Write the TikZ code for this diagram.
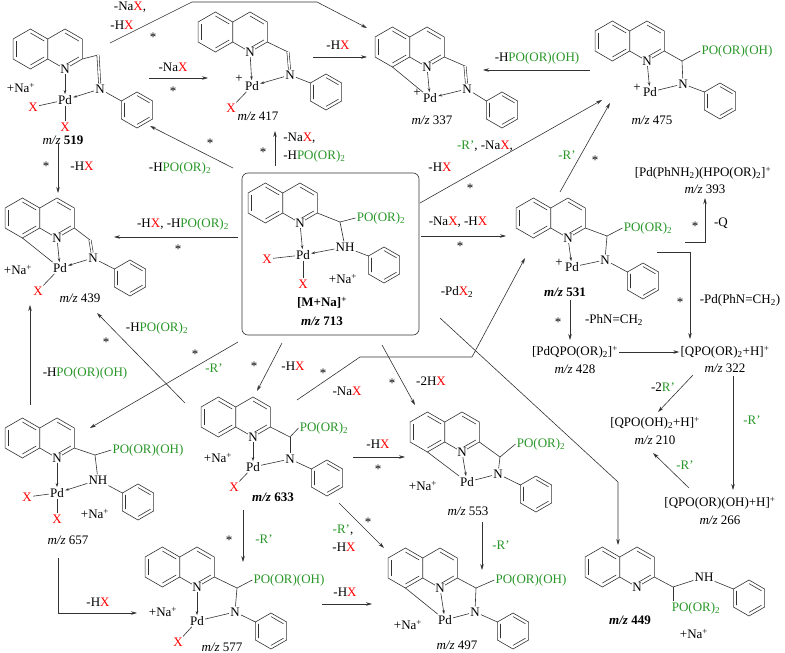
\documentclass[tikz,border=0pt]{standalone}
\usepackage{fontspec}
\setmainfont{Liberation Serif}
\usetikzlibrary{arrows.meta,calc}
\definecolor{grn}{RGB}{40,150,40}
\definecolor{ink}{RGB}{50,50,50}
\newcommand\Xr{\textcolor{red}{X}}
\newcommand\Gn[1]{\textcolor{grn}{#1}}
\newcommand\sbs[1]{\textsubscript{#1}}
\newcommand\sps[1]{\textsuperscript{#1}}
\begin{document}
\begin{tikzpicture}[x=1pt,y=-1pt,line width=0.6pt,
  every node/.style={font=\fontsize{13}{14}\selectfont,inner sep=1pt,text=black},
  nn/.style={fill=white,inner sep=0.6pt},
  ar/.style={draw=ink,-{Stealth[length=6pt,width=3.5pt]}},
  ln/.style={draw=ink},
  dat/.style={draw=ink,-{Stealth[length=4pt,width=2.6pt]}},
  db/.style={draw=ink,double=white,double distance=1.6pt},
  quin/.pic={
    \draw[ink] (0,0)--(17.3,-10)--(17.3,-30)--(0,-40)--(-17.3,-30)--(-17.3,-10)--cycle;
    \draw[ink] (-17.3,-10)--(-34.6,0)--(-51.9,-10)--(-51.9,-30)--(-34.6,-40)--(-17.3,-30);
    \draw[ink] ($(0,-40)!0.2!(0,-20)$)--($(17.3,-30)!0.2!(0,-20)$);
    \draw[ink] ($(0,0)!0.2!(0,-20)$)--($(17.3,-10)!0.2!(0,-20)$);
    \draw[ink] ($(-51.9,-10)!0.2!(-34.6,-20)$)--($(-51.9,-30)!0.2!(-34.6,-20)$);
    \draw[ink] ($(-34.6,-40)!0.2!(-34.6,-20)$)--($(-17.3,-30)!0.2!(-34.6,-20)$);
    \draw[ink] ($(-34.6,0)!0.2!(-34.6,-20)$)--($(-17.3,-10)!0.2!(-34.6,-20)$);
    \node[nn] (-N) at (0,0) {N};
    \coordinate (-c2) at (17.3,-10);
    \coordinate (-c8) at (-34.6,0);
  },
  ph/.pic={
    \draw[ink] (0,-18)--(15.6,-9)--(15.6,9)--(0,18)--(-15.6,9)--(-15.6,-9)--cycle;
    \draw[ink] (0,-14.4)--(12.5,-7.2) (12.5,7.2)--(0,14.4) (-12.5,7.2)--(-12.5,-7.2);
    \coordinate (-v) at (-15.6,-9);
  }]
\useasboundingbox (0,0) rectangle (785,653);

% ---------- A (519)
\pic (qa) at (65,69) {quin};
\node (A1) at (65,100) {Pd};
\node (A2) at (33,107) {\Xr};
\node (A3) at (65,127) {\Xr};
\node at (21,88) {+Na\sps{+}};
\coordinate (Ach) at (98,55);
\node (An) at (100,89) {N};
\draw[ink] (qa-c2)--(Ach); \draw[db] (Ach)--(An);
\draw[dat] (qa-N)--(A1); \draw[dat] (An)--(A1);
\draw[ln] (A1)--(A2); \draw[ln] (A1)--(A3);
\pic (pA) at (137,110) {ph}; \draw[ln] (An)--(pA-v);
\node at (63,140) {\textit{m/z} \textbf{519}};

% ---------- B (417)
\pic (qb) at (250,52) {quin};
\node (B1) at (252,86) {Pd}; \node at (239,79) {+};
\node (B2) at (231,108) {\Xr};
\coordinate (Bch) at (288,52);
\node (Bn) at (290,75) {N};
\draw[ink] (qb-c2)--(Bch); \draw[db] (Bch)--(Bn);
\draw[dat] (qb-N)--(B1); \draw[dat] (Bn)--(B1); \draw[ln] (B1)--(B2);
\pic (pB) at (326,92) {ph}; \draw[ln] (Bn)--(pB-v);
\node at (258,116) {\textit{m/z} 417};

% ---------- C (337)
\pic (qc) at (427,67) {quin};
\node (C1) at (430,98) {Pd}; \node at (417,93) {+};
\coordinate (Cch) at (465,66);
\node (Cn) at (467,89) {N};
\draw[ink] (qc-c2)--(Cch); \draw[db] (Cch)--(Cn);
\draw[dat] (qc-N)--(C1); \draw[dat] (Cn)--(C1); \draw[ln] (qc-c8)--(C1);
\pic (pC) at (502,110) {ph}; \draw[ln] (Cn)--(pC-v);
\node at (432,120) {\textit{m/z} 337};

% ---------- D (475)
\pic (qd) at (647,61) {quin};
\node (D1) at (650,92) {Pd}; \node at (637,88) {+};
\coordinate (Dch) at (682,61);
\node (Dpo) at (737,51) {\Gn{PO(OR)(OH)}};
\node (Dn) at (683,84) {N};
\draw[ink] (qd-c2)--(Dch)--(Dpo.west); \draw[ln] (Dch)--(Dn);
\draw[dat] (qd-N)--(D1); \draw[ln] (Dn)--(D1);
\pic (pD) at (720,101) {ph}; \draw[ln] (Dn)--(pD-v);
\node at (652,120) {\textit{m/z} 475};

% ---------- E (439)
\pic (qe) at (57,238) {quin};
\node (E1) at (60,268) {Pd};
\node (E2) at (38,291) {\Xr};
\node at (18,270) {+Na\sps{+}};
\coordinate (Ech) at (90,240);
\node (En) at (93,258) {N};
\draw[ink] (qe-c2)--(Ech); \draw[db] (Ech)--(En);
\draw[dat] (qe-N)--(E1); \draw[dat] (En)--(E1); \draw[ln] (qe-c8)--(E1); \draw[ln] (E1)--(E2);
\pic (pE) at (130,278) {ph}; \draw[ln] (En)--(pE-v);
\node at (80,298) {\textit{m/z} 439};

% ---------- F (713) box
\draw[ink,rounded corners=6pt] (242,173) rectangle (419,335);
\pic (qf) at (300,223) {quin};
\node (F1) at (303,255) {Pd};
\node (F2) at (267,259) {\Xr};
\node (F3) at (303,284) {\Xr};
\coordinate (Fch) at (340,222);
\node (Fpo) at (381,218) {\Gn{PO(OR)\sbs{2}}};
\node (Fnh) at (345,247) {NH};
\draw[ink] (qf-c2)--(Fch)--(Fpo.west); \draw[ln] (Fch)--(Fnh);
\draw[dat] (qf-N)--(F1); \draw[dat] (Fnh)--(F1); \draw[ln] (F1)--(F2); \draw[ln] (F1)--(F3);
\pic (pF) at (384,265) {ph}; \draw[ln] (Fnh)--(pF-v);
\node at (343,279) {+Na\sps{+}};
\node at (322,303) {\textbf{[M+Na]\sps{+}}};
\node at (322,321) {\textbf{\textit{m/z} 713}};

% ---------- G (531)
\pic (qg) at (568,238) {quin};
\node (G1) at (572,267) {Pd}; \node at (559,263) {+};
\coordinate (Gch) at (607,236);
\node (Gpo) at (648,228) {\Gn{PO(OR)\sbs{2}}};
\node (Gn) at (605,260) {N};
\draw[ink] (qg-c2)--(Gch)--(Gpo.west); \draw[ln] (Gch)--(Gn);
\draw[dat] (qg-N)--(G1); \draw[ln] (Gn)--(G1);
\pic (pG) at (643,281) {ph}; \draw[ln] (Gn)--(pG-v);
\node at (565,292) {\textbf{\textit{m/z} 531}};

% ---------- H (657)
\pic (qh) at (57,458) {quin};
\node (H1) at (57,493) {Pd};
\node (H2) at (27,497) {\Xr};
\node (H3) at (57,519) {\Xr};
\coordinate (Hch) at (95,455);
\node (Hpo) at (148,450) {\Gn{PO(OR)(OH)}};
\node (Hnh) at (98,480) {NH};
\draw[ink] (qh-c2)--(Hch)--(Hpo.west); \draw[ln] (Hch)--(Hnh);
\draw[dat] (qh-N)--(H1); \draw[dat] (Hnh)--(H1); \draw[ln] (H1)--(H2); \draw[ln] (H1)--(H3);
\pic (pH) at (138,502) {ph}; \draw[ln] (Hnh)--(pH-v);
\node at (95,514) {+Na\sps{+}};
\node at (68,540) {\textit{m/z} 657};

% ---------- I (633)
\pic (qi) at (253,437) {quin};
\node (I1) at (253,467) {Pd};
\node (I2) at (234,487) {\Xr};
\node at (218,458) {+Na\sps{+}};
\coordinate (Ich) at (290,437);
\node (Ipo) at (324,428) {\Gn{PO(OR)\sbs{2}}};
\node (In) at (290,459) {N};
\draw[ink] (qi-c2)--(Ich)--(Ipo.west); \draw[ln] (Ich)--(In);
\draw[dat] (qi-N)--(I1); \draw[ln] (In)--(I1); \draw[ln] (I1)--(I2);
\pic (pI) at (327,478) {ph}; \draw[ln] (In)--(pI-v);
\node at (273,497) {\textbf{\textit{m/z} 633}};

% ---------- J (553)
\pic (qj) at (462,452) {quin};
\node (J1) at (467,482) {Pd};
\node at (423,486) {+Na\sps{+}};
\coordinate (Jch) at (500,457);
\node (Jpo) at (541,444) {\Gn{PO(OR)\sbs{2}}};
\node (Jn) at (498,474) {N};
\draw[ink] (qj-c2)--(Jch)--(Jpo.west); \draw[ln] (Jch)--(Jn);
\draw[dat] (qj-N)--(J1); \draw[ln] (Jn)--(J1); \draw[ln] (qj-c8)--(J1);
\pic (pJ) at (536,494) {ph}; \draw[ln] (Jn)--(pJ-v);
\node at (468,511) {\textit{m/z} 553};

% ---------- K (577)
\pic (qk) at (197,587) {quin};
\node (K1) at (197,621) {Pd};
\node (K2) at (178,642) {\Xr};
\node at (163,612) {+Na\sps{+}};
\coordinate (Kch) at (237,588);
\node (Kpo) at (289,580) {\Gn{PO(OR)(OH)}};
\node (Kn) at (235,612) {N};
\draw[ink] (qk-c2)--(Kch)--(Kpo.west); \draw[ln] (Kch)--(Kn);
\draw[dat] (qk-N)--(K1); \draw[ln] (Kn)--(K1); \draw[ln] (K1)--(K2);
\pic (pK) at (271,631) {ph}; \draw[ln] (Kn)--(pK-v);
\node at (222,647) {\textit{m/z} 577};

% ---------- L (497)
\pic (ql) at (440,588) {quin};
\node (L1) at (445,620) {Pd};
\node at (408,625) {+Na\sps{+}};
\coordinate (Lch) at (476,588);
\node (Lpo) at (531,580) {\Gn{PO(OR)(OH)}};
\node (Ln) at (475,612) {N};
\draw[ink] (ql-c2)--(Lch)--(Lpo.west); \draw[ln] (Lch)--(Ln);
\draw[dat] (ql-N)--(L1); \draw[ln] (Ln)--(L1); \draw[ln] (ql-c8)--(L1);
\pic (pL) at (513,631) {ph}; \draw[ln] (Ln)--(pL-v);
\node at (457,645) {\textit{m/z} 497};

% ---------- M (449)
\pic (qm) at (637,587) {quin};
\coordinate (Mch) at (673,587);
\node (Mnh) at (704,577) {NH};
\node (Mpo) at (696,608) {\Gn{PO(OR)\sbs{2}}};
\draw[ink] (qm-c2)--(Mch)--(Mnh); \draw[ln] (Mch)--(Mpo.north -| Mch);
\pic (pM) at (749,598) {ph}; \draw[ln] (Mnh)--(pM-v);
\node at (630,620) {\textbf{\textit{m/z} 449}};
\node at (694,634) {+Na\sps{+}};

% ---------- small species
\node (S393) at (703,173) {[Pd(PhNH\sbs{2})(HPO(OR)\sbs{2}]\sps{+}};
\node at (705,189) {\textit{m/z} 393};
\node (S428) at (575,352) {[PdQPO(OR)\sbs{2}]\sps{+}};
\node at (575,369) {\textit{m/z} 428};
\node (S322) at (725,352) {[QPO(OR)\sbs{2}+H]\sps{+}};
\node at (725,368) {\textit{m/z} 322};
\node (S210) at (655,423) {[QPO(OH)\sbs{2}+H]\sps{+}};
\node at (655,440) {\textit{m/z} 210};
\node (S266) at (720,503) {[QPO(OR)(OH)+H]\sps{+}};
\node at (720,520) {\textit{m/z} 266};

% ---------- arrows
\coordinate (t1) at (110,43); \coordinate (t2) at (192,2); \coordinate (t3) at (317,2); \coordinate (t4) at (367,28);
\draw[ar] (t1)--(t2)--(t3)--(t4);
\node at (130,7) {-Na\Xr,}; \node at (122,25) {-H\Xr}; \node at (153,37) {*};
\coordinate (ab1) at (149,78); \coordinate (ab2) at (208,78);
\draw[ar] (ab1)--(ab2); \node at (173,67) {-Na\Xr}; \node at (173,91) {*};
\coordinate (bc1) at (313,57); \coordinate (bc2) at (367,57);
\draw[ar] (bc1)--(bc2); \node at (338,45) {-H\Xr};
\coordinate (dc1) at (590,70); \coordinate (dc2) at (483,70);
\draw[ar] (dc1)--(dc2); \node at (537,58) {-H\Gn{PO(OR)(OH)}};
\coordinate (fa1) at (233,168); \coordinate (fa2) at (150,126);
\draw[ar] (fa1)--(fa2); \node at (180,168) {-H\Gn{PO(OR)\sbs{2}}}; \node at (210,143) {*};
\coordinate (fb1) at (275,166); \coordinate (fb2) at (275,131);
\draw[ar] (fb1)--(fb2); \node[anchor=west] at (282,138) {-Na\Xr,}; \node[anchor=west] at (282,156) {-H\Gn{PO(OR)\sbs{2}}}; \node at (263,152) {*};
\coordinate (ae1) at (58,143); \coordinate (ae2) at (58,193);
\draw[ar] (ae1)--(ae2); \node at (46,166) {*}; \node at (82,166) {-H\Xr};
\coordinate (fe1) at (238,237); \coordinate (fe2) at (114,237);
\draw[ar] (fe1)--(fe2); \node at (183,224) {-H\Xr, -H\Gn{PO(OR)\sbs{2}}}; \node at (178,249) {*};
\coordinate (fd1) at (420,203); \coordinate (fd2) at (602,100);
\draw[ar] (fd1)--(fd2); \node at (485,146) {\Gn{-R'}, -Na\Xr,}; \node at (440,167) {-H\Xr}; \node at (470,188) {*};
\coordinate (gd1) at (560,192); \coordinate (gd2) at (610,103);
\draw[ar] (gd1)--(gd2); \node at (567,155) {\Gn{-R'}}; \node at (595,160) {*};
\coordinate (fg1) at (421,236); \coordinate (fg2) at (506,236);
\draw[ar] (fg1)--(fg2); \node at (458,222) {-Na\Xr, -H\Xr}; \node at (460,246) {*};
\coordinate (fm1) at (440,318); \coordinate (fm2) at (618,482); \coordinate (fm3) at (618,545);
\draw[ar] (fm1)--(fm2)--(fm3); \node at (457,292) {-Pd\Xr\sbs{2}};
\coordinate (ig1) at (297,400); \coordinate (ig2) at (360,357); \coordinate (ig3) at (472,357); \coordinate (ig4) at (525,258);
\draw[ar] (ig1)--(ig2)--(ig3)--(ig4); \node at (347,391) {-Na\Xr}; \node at (323,373) {*};
\coordinate (fj1) at (382,345); \coordinate (fj2) at (415,405);
\draw[ar] (fj1)--(fj2); \node at (431,381) {-2H\Xr}; \node at (392,383) {*};
\coordinate (fh1) at (238,342); \coordinate (fh2) at (90,428);
\draw[ar] (fh1)--(fh2); \node at (214,368) {\Gn{-R'}}; \node at (195,354) {*};
\coordinate (ie1) at (185,403); \coordinate (ie2) at (97,313);
\draw[ar] (ie1)--(ie2); \node at (157,328) {-H\Gn{PO(OR)\sbs{2}}}; \node at (106,342) {*};
\coordinate (fi1) at (282,343); \coordinate (fi2) at (257,391);
\draw[ar] (fi1)--(fi2); \node at (293,366) {-H\Xr}; \node at (254,366) {*};
\coordinate (he1) at (30,405); \coordinate (he2) at (30,305);
\draw[ar] (he1)--(he2); \node at (85,373) {-H\Gn{PO(OR)(OH)}};
\coordinate (hk1) at (58,558); \coordinate (hk2) at (58,613); \coordinate (hk3) at (137,613);
\draw[ar] (hk1)--(hk2)--(hk3); \node at (98,602) {-H\Xr};
\coordinate (ij1) at (353,457); \coordinate (ij2) at (405,457);
\draw[ar] (ij1)--(ij2); \node at (378,444) {-H\Xr}; \node at (378,469) {*};
\coordinate (ik1) at (243,510); \coordinate (ik2) at (243,562);
\draw[ar] (ik1)--(ik2); \node at (264,539) {\Gn{-R'}}; \node at (229,540) {*};
\coordinate (il1) at (339,503); \coordinate (il2) at (384,548);
\draw[ar] (il1)--(il2); \node at (343,530) {\Gn{-R'},}; \node at (344,547) {-H\Xr}; \node at (368,522) {*};
\coordinate (kl1) at (322,604); \coordinate (kl2) at (372,604);
\draw[ar] (kl1)--(kl2); \node at (345,592) {-H\Xr};
\coordinate (jl1) at (482,522); \coordinate (jl2) at (482,570);
\draw[ar] (jl1)--(jl2); \node at (501,545) {\Gn{-R'}};
\coordinate (g1) at (685,242); \coordinate (g2) at (705,242); \coordinate (g3) at (705,198);
\draw[ar] (g1)--(g2)--(g3); \node at (695,226) {*}; \node at (721,223) {-Q};
\coordinate (h1) at (657,252); \coordinate (h2) at (690,252); \coordinate (h3) at (690,339);
\draw[ar] (h1)--(h2)--(h3); \node at (680,302) {*}; \node at (740,300) {-Pd(PhN=CH\sbs{2})};
\coordinate (k1) at (570,300); \coordinate (k2) at (570,340);
\draw[ar] (k1)--(k2); \node at (558,322) {*}; \node at (614,320) {-PhN=CH\sbs{2}};
\draw[ar] (S428)--(S322);
\coordinate (m1) at (693,375); \coordinate (m2) at (658,412);
\draw[ar] (m1)--(m2); \node at (663,387) {-2\Gn{R'}};
\coordinate (n1) at (733,376); \coordinate (n2) at (733,490);
\draw[ar] (n1)--(n2); \node at (752,420) {\Gn{-R'}};
\coordinate (o1) at (689,488); \coordinate (o2) at (653,453);
\draw[ar] (o1)--(o2); \node at (685,465) {\Gn{-R'}};
\end{tikzpicture}
\end{document}
